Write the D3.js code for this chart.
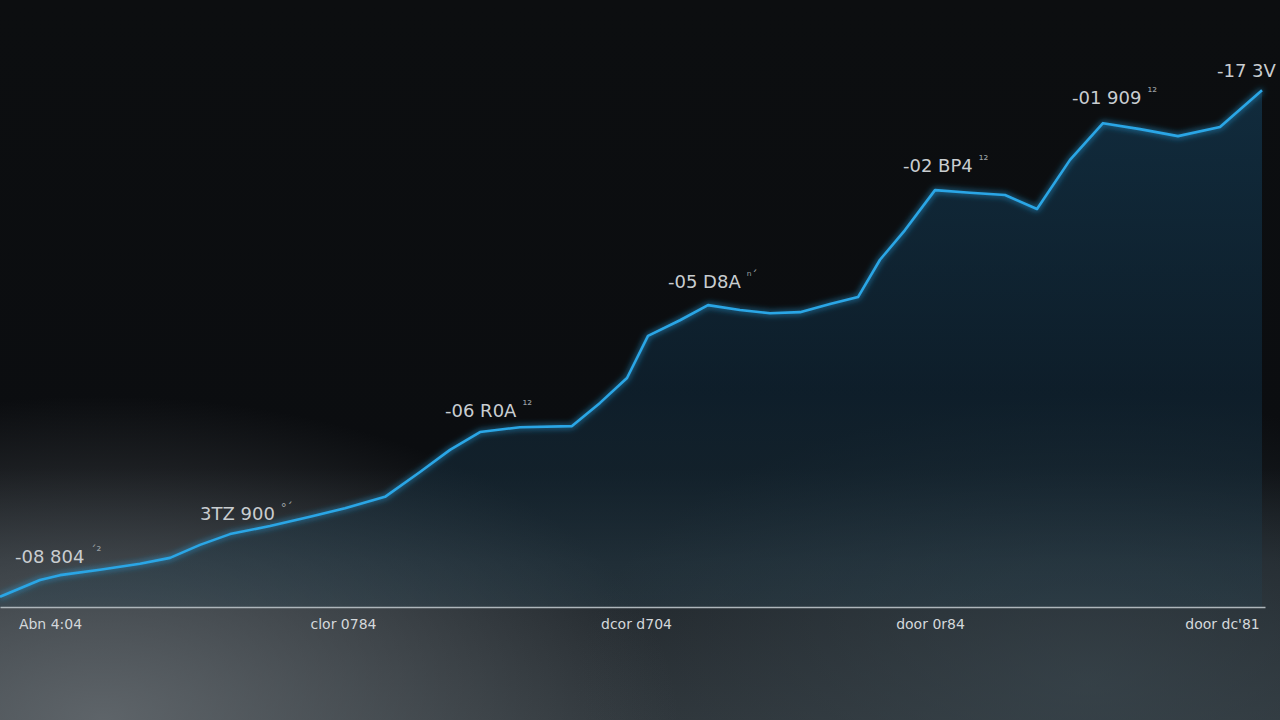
<!DOCTYPE html>
<html><head><meta charset="utf-8">
<script src="https://cdn.jsdelivr.net/npm/d3@7"></script>
<style>html,body{margin:0;padding:0;background:#0b0d0f;overflow:hidden}</style>
</head><body>
<svg id="c" width="1280" height="720"></svg>
<script>
// Data (x positions in arbitrary time units, values in arbitrary units)
const xVals = [0,4,6,10,14,17,20,23,27,31,34.5,38.5,42,45,48,52,57.2,60,62.7,64.8,68,70.8,74,77,80,83,85.8,88,90.5,93.5,97,100.5,103.7,107,110.3,114,117.8,122,126.2];
const values = [1.9,5.0,5.9,6.9,8.0,9.1,11.5,13.5,15.0,16.7,18.3,20.4,25.0,29.1,32.4,33.3,33.5,37.8,42.4,50.2,53.1,55.9,55.0,54.4,54.6,56.1,57.4,64.3,69.8,77.2,76.7,76.3,73.7,82.8,89.6,88.5,87.2,88.9,95.7];
const annoX = [1.5,20,44.5,66.8,90.3,107.2,121.7];
const annoY = [8.2,16.2,35.2,59.0,80.6,93.2,98.2];
const annoLabels = ["-08 804","3TZ 900","-06 R0A","-05 D8A","-02 BP4","-01 909","-17 3V"];
const annoMarks = ["\u00b4\u00b2","\u00b0\u00b4","\u00b9\u00b2","\u207f\u00b4","\u00b9\u00b2","\u00b9\u00b2",""];
const tickX = [5,34.3,63.6,93,122.2];
const tickLabels = ["Abn 4:04","clor 0784","dcor d704","door 0r84","door dc'81"];

const svg = d3.select("#c");
const W = 1280, H = 720;
const x = d3.scaleLinear().domain([0,126.5]).range([0,1265]);
const y = d3.scaleLinear().domain([0,100]).range([607,67]);

const defs = svg.append("defs");
const bg = defs.append("linearGradient").attr("id","bg").attr("x1",0).attr("y1",0).attr("x2",0).attr("y2",1);
bg.append("stop").attr("offset","0%").attr("stop-color","#0c0e10");
bg.append("stop").attr("offset","65%").attr("stop-color","#0b0d10");
bg.append("stop").attr("offset","78%").attr("stop-color","#1f252a");
bg.append("stop").attr("offset","100%").attr("stop-color","#2e353a");
svg.append("rect").attr("width",W).attr("height",H).attr("fill","url(#bg)");

const rl = defs.append("radialGradient").attr("id","rl").attr("cx","0.08").attr("cy","1.0").attr("r","0.45");
rl.append("stop").attr("offset","0%").attr("stop-color","#6a7075").attr("stop-opacity",0.8);
rl.append("stop").attr("offset","100%").attr("stop-color","#6a7075").attr("stop-opacity",0);
svg.append("rect").attr("width",W).attr("height",H).attr("fill","url(#rl)");
const rr = defs.append("radialGradient").attr("id","rr").attr("cx","0.85").attr("cy","0.95").attr("r","0.4");
rr.append("stop").attr("offset","0%").attr("stop-color","#3c4a52").attr("stop-opacity",0.6);
rr.append("stop").attr("offset","100%").attr("stop-color","#3c4a52").attr("stop-opacity",0);
svg.append("rect").attr("width",W).attr("height",H).attr("fill","url(#rr)");

const ag = defs.append("linearGradient").attr("id","ag").attr("gradientUnits","userSpaceOnUse").attr("x1",0).attr("x2",0).attr("y1",67).attr("y2",607);
ag.append("stop").attr("offset","0%").attr("stop-color","#123247").attr("stop-opacity",0.85);
ag.append("stop").attr("offset","60%").attr("stop-color","#0f2535").attr("stop-opacity",0.7);
ag.append("stop").attr("offset","100%").attr("stop-color","#26404e").attr("stop-opacity",0.35);

const glow = defs.append("filter").attr("id","glow").attr("x","-5%").attr("y","-5%").attr("width","110%").attr("height","110%");
glow.append("feGaussianBlur").attr("stdDeviation",3).attr("result","b");
const fm = glow.append("feMerge");
fm.append("feMergeNode").attr("in","b");
fm.append("feMergeNode").attr("in","SourceGraphic");

const pts = xVals.map((v,i)=>[v, values[i]]);
const area = d3.area().x(d=>x(d[0])).y0(y(0)).y1(d=>y(d[1])).curve(d3.curveLinear);
const line = d3.line().x(d=>x(d[0])).y(d=>y(d[1])).curve(d3.curveLinear);

svg.append("path").datum(pts).attr("d",area).attr("fill","url(#ag)");
svg.append("path").datum(pts).attr("d",line).attr("fill","none").attr("stroke","#2aa6e6").attr("stroke-width",2.6).attr("stroke-linejoin","round").attr("filter","url(#glow)");

// baseline axis
const axis = d3.axisBottom(x).tickValues(tickX).tickFormat((d,i)=>tickLabels[i]).tickSize(0).tickPadding(12);
const ga = svg.append("g").attr("transform",`translate(0,${y(0)})`).call(axis);
ga.select(".domain").attr("stroke","#aeb6bb").attr("stroke-width",1.5);
ga.selectAll("text").attr("fill","#d4d8db").attr("font-family","DejaVu Sans, sans-serif").attr("font-size",14);

// annotations
const ann = svg.append("g").attr("font-family","DejaVu Sans, sans-serif").attr("fill","#c9cdd0");
annoLabels.forEach((t,i)=>{
  const tx = ann.append("text").attr("x",x(annoX[i])).attr("y",y(annoY[i])).attr("font-size",18).text(t);
  tx.append("tspan").attr("dx",6).attr("dy",-8).attr("font-size",12).attr("fill","#9aa0a4").text(annoMarks[i]);
});
</script>
</body></html>
